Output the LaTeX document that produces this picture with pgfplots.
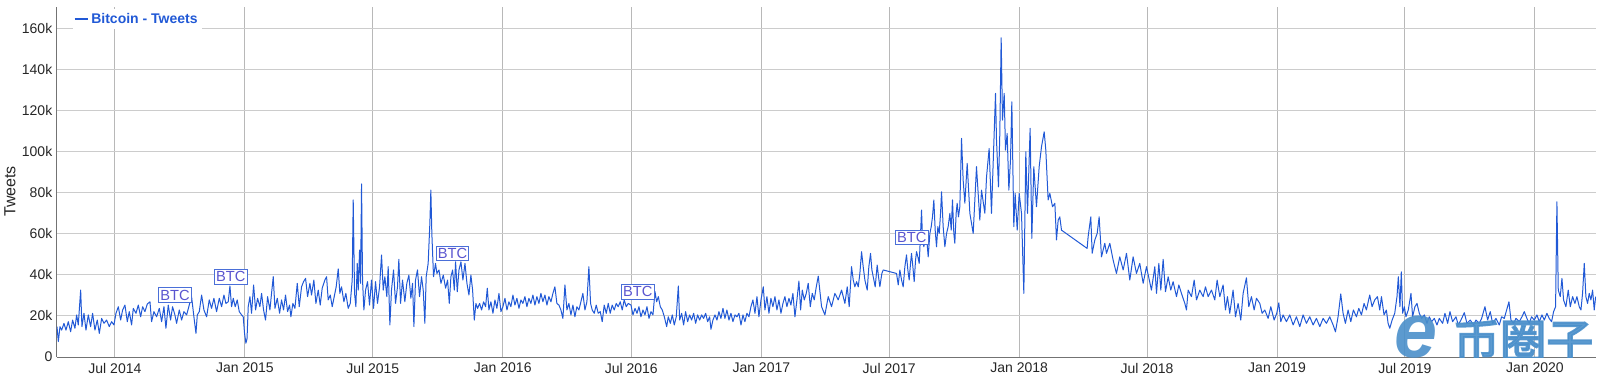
\documentclass[border=0pt]{standalone}
\usepackage{fontspec}
\setmainfont{Liberation Sans}
\newfontfamily\cjk{Noto Sans CJK SC}[FakeBold=4]
\usepackage{pgfplots}
\pgfplotsset{compat=1.18}
\definecolor{btc}{HTML}{2159D6}
\definecolor{btcbox}{HTML}{4A6FD8}
\definecolor{btctext}{HTML}{5A55D0}
\definecolor{wm}{HTML}{4A8FCA}
\begin{document}
\begin{tikzpicture}
\useasboundingbox (-42.75pt,-14.25pt) rectangle (1157.25pt,267.75pt);
\begin{axis}[
  at={(0,0)}, anchor=south west,
  width=1154.25pt, height=262.5pt, scale only axis,
  xmin=99, xmax=2277.5, ymin=0, ymax=170.5,
  axis x line*=bottom, axis y line*=left,
  axis line style={-, draw=black!55, line width=0.75pt},
  xtick={181,365,546,730,912,1096,1277,1461,1642,1826,2007,2191},
  xticklabels={Jul 2014,Jan 2015,Jul 2015,Jan 2016,Jul 2016,Jan 2017,Jul 2017,Jan 2018,Jul 2018,Jan 2019,Jul 2019,Jan 2020},
  ytick={0,20,40,60,80,100,120,140,160},
  yticklabels={0,20k,40k,60k,80k,100k,120k,140k,160k},
  /pgf/number format/assume math mode=true,
  xmajorgrids, ymajorgrids,
  x grid style={draw=black!28, line width=0.75pt},
  y grid style={draw=black!20, line width=0.75pt},
  major tick length=0pt,
  tick style={draw=none},
  tick label style={font=\fontsize{10.5}{12}\selectfont, text=black!85},
  xticklabel style={yshift=-1pt},
  ylabel={Tweets},
  every axis y label/.style={at={(axis description cs:0,0.473)}, xshift=-35.25pt, anchor=center, rotate=90, font=\fontsize{12}{14}\selectfont, text=black!85},
  legend style={at={(axis description cs:0.0100,0.995)}, anchor=north west, draw=none, fill=white, inner sep=1pt, font=\fontsize{10.5}{12}\selectfont\bfseries, text=btc},
  legend cell align=left,
  legend image code/.code={\draw[btc, line width=1pt] (0pt,0pt) -- (10pt,0pt);},
]
\addplot[btc, line width=0.75pt, line join=round] coordinates {
(99,14.8)(100.9,7.5)(103.2,14.8)(105.6,13.1)(108.9,16.4)(111.7,13.1)(115,17.2)(118.3,12.3)(121.1,18)(124.4,14)(126.8,20.5)(129.1,15.6)(132.5,32.6)(134.3,14.8)(137.2,21.3)(140,13.1)(143.3,20.5)(146.6,14.8)(149.4,21.3)(152.7,13.1)(156,18)(158.9,11.5)(162.2,18.8)(165.5,16.4)(169.2,18)(173,14.8)(176.3,17.2)(179.6,15.6)(182.5,21.3)(185.8,24.5)(189.1,18)(191.9,22.9)(195.2,25.3)(198.5,17.2)(201.3,22.1)(204.6,15.6)(207,23.7)(210.8,21.3)(214.1,25.3)(217.4,19.6)(220.2,24.5)(223.5,22.1)(226.8,25.8)(230.6,26.9)(232.9,17.2)(236.2,22.1)(240,19.6)(243.8,23.7)(247.1,17.2)(250.4,24.5)(253.2,14)(256.5,25.3)(259.8,18)(262.6,24.5)(265.9,20.5)(268.3,16.4)(272.1,22.9)(275.4,18)(278.7,22.1)(282.5,20.5)(286.2,25.3)(289.5,29.4)(292.8,19.6)(295.7,11.5)(297.6,20.5)(300.4,22.1)(303.7,30.2)(307,22.9)(310.8,19.6)(314.5,27.8)(317.8,23.7)(321.1,28.6)(324.9,22.1)(328.7,28.6)(332,24.5)(335.3,30.2)(338.1,26.1)(341.4,26.9)(343.8,34.6)(346.1,24.5)(348.5,28.6)(351.3,24.5)(354.1,27.8)(357,22.1)(360.3,20.5)(362.6,19.6)(364.5,11.5)(366.4,6.7)(368,9)
(369.7,24.5)(372.1,29.4)(374.4,21.3)(377.3,35.1)(380.1,22.9)(382.9,28.6)(386.2,24.5)(388.6,31)(391.4,22.9)(394.2,18)(397.1,29.4)(400.4,22.9)(402.7,31)(405.1,39.1)(407.5,23.7)(410.8,28.6)(414.1,21.3)(416.9,27.8)(419.7,22.9)(422.5,30.2)(425.4,22.1)(428.2,25.3)(430.1,19.6)(432.9,26.1)(435.8,23.7)(439.1,35.9)(441.9,24.5)(445.2,34.2)(448,36.7)(450.9,38.3)(453.7,29.4)(457,35.9)(459.3,30.2)(462.6,37.5)(465.5,26.1)(468.8,32.6)(471.6,25.3)(474.4,33.5)(478.2,37.5)(480.6,39.1)(482.9,27.8)(485.8,30.2)(488.6,24.5)(491.4,29.4)(494.2,34.2)(497.1,42.9)(499.4,31)(501.8,34.2)(505.1,26.9)(507.9,31)(511.2,23.7)(514.1,26.1)(516.9,37.5)(518.3,76.5)(520.2,31)(522.1,24.5)(524,45.6)(525.4,32.6)(527.3,52.1)(528.7,35.9)(530.1,84.3)(531.5,37.5)(533.4,22.9)(535.8,32.6)(538.6,36.7)(541.4,25.3)(544.2,37.5)(547.1,23.7)(549.9,36.7)(552.7,26.1)(555.6,34.2)(558.4,49.7)(560.8,32.6)(563.1,39.1)(565.9,29.4)(567.8,44)(570.2,15.6)(572.5,32.6)(575.4,42.4)(578.2,26.1)(581,34.2)(582.9,47.6)(585.3,26.1)(588.1,37.5)(591.4,26.9)(594.2,35.9)(597.1,39.9)(599.9,28.6)(602.3,35.9)(604.2,14.8)(606.5,37.5)(609.3,42.4)(612.2,29.4)(615,39.1)(617.4,32.6)(619.7,16.4)(621.6,39.1)(624.4,45.6)(626.8,65.1)(628.2,81.3)(629.6,60.2)(632,39.1)(634.8,45.6)
(636.8,40.7)(639.7,42.4)(642.5,35.9)(645.8,39.9)(649.1,33.5)(651.9,37.5)(654.3,26.1)(656.6,39.1)(659,42.4)(661.4,32.6)(663.2,46.4)(665.6,31.8)(668,42.4)(670.8,46.4)(673.6,37.5)(676.5,45.6)(679.3,35.9)(682.1,30.2)(684.9,39.9)(687.3,32.6)(689.7,18)(692,26.1)(694.4,23.7)(697.2,26.1)(700,22.9)(702.9,26.9)(705.7,24.5)(708.1,33.5)(710.4,22.9)(713.2,26.9)(716.1,21.3)(718.9,27.8)(721.7,23.7)(724.6,31)(727.4,22.1)(730.2,24.5)(733.1,28.6)(735.9,22.9)(738.7,26.9)(741.5,24.5)(744.4,30.2)(747.2,25.3)(750,28.6)(752.9,23.7)(755.7,27.8)(758.5,26.1)(761.4,29.4)(764.2,24.5)(767,28.6)(769.8,26.1)(772.7,30.2)(775.5,25.3)(778.3,29.4)(781.2,26.1)(784,31)(786.8,26.9)(789.7,30.2)(792.5,25.3)(795.3,29.4)(798.2,26.9)(801,31)(803.8,34.2)(806.6,26.1)(809.5,25.3)(812.3,22.9)(815.1,18.8)(818,35.1)(820.8,22.9)(823.6,26.1)(826.5,20.5)(829.3,25.3)(832.1,19.6)(834.9,24.5)(837.8,22.9)(840.6,26.9)(843.4,31)(846.3,22.9)(849.1,26.9)(851.9,44)(854.3,26.1)(856.6,22.9)(859.5,21.3)(862.3,25.3)(865.1,21.3)(868,22.1)(870.8,17.2)(873.6,25.3)(876.5,21.3)(879.3,26.1)(882.1,21.3)(884.9,25.3)(887.8,22.9)(890.6,26.1)(893.4,24.5)(896.3,26.9)(899.1,22.9)(901.9,27.8)(904.8,24.5)(907.6,26.1)
(911.5,25.3)(914.3,20.5)(917.2,23.7)(920,21.3)(922.8,24.5)(925.6,19.6)(928.5,22.9)(931.3,20.5)(934.1,24.5)(937,18.8)(939.8,22.1)(942.6,20.5)(945.5,31.8)(947.8,26.9)(950.2,29.4)(953,24.5)(955.8,22.9)(958.7,19.6)(962,14.8)(964.3,19.6)(967.2,16.4)(970,20.5)(972.8,15.6)(975.6,19.6)(978.5,34.6)(980.4,18)(983.2,21.3)(986,15.6)(988.8,22.1)(991.7,17.2)(994.5,20.5)(997.3,18)(1000.2,21.3)(1003,16.4)(1005.8,20.5)(1008.7,18)(1011.5,20.5)(1014.3,18.8)(1017.2,21.3)(1020,17.2)(1022.8,19.6)(1024.7,13.5)(1027.5,18)(1030.4,20.5)(1033.2,18)(1036,22.1)(1038.8,18.8)(1041.7,23.7)(1044.5,18.8)(1047.3,22.9)(1050.2,18)(1053,21.3)(1055.8,17.2)(1058.7,20.5)(1061.5,19.6)(1064.3,21.3)(1067.2,15.6)(1070,20.5)(1072.8,17.2)(1075.6,21.3)(1078.5,19.6)(1081.3,24.5)(1084.1,27.8)(1087,21.3)(1089.8,29.4)(1092.6,19.6)(1095.5,27.8)(1098.8,34.2)(1101.1,22.9)(1103.9,29.4)(1106.8,21.3)(1109.6,28.6)(1112.4,24.5)(1115.3,29.4)(1118.1,22.9)(1120.9,27.8)(1123.8,21.3)(1126.6,26.1)(1129.4,29.4)(1132.2,24.5)(1135.1,28.6)(1137.9,25.3)(1140.7,31)(1143.6,19.6)(1146.4,27.8)(1149.2,37)(1151.6,22.9)(1154,32.6)(1156.8,27.8)(1159.6,31)(1162.4,35.9)(1165.3,24.5)(1168.1,31)(1170.9,27.8)(1173.8,34.2)(1176.6,39.4)
(1181.3,24.5)(1186,20.5)(1190.7,29.4)(1195.4,24.5)(1200.1,31)(1204.8,27.8)(1209.6,32.6)(1214.3,26.1)(1217.6,34.2)(1220.4,24.5)(1223.7,44)(1226.1,37.5)(1228.4,34.2)(1230.8,36.7)(1233.2,34.2)(1235.5,40.7)(1237.9,51.3)(1240.2,44)(1242.6,37.5)(1245.9,32.6)(1248.2,44)(1250.6,50.5)(1252.5,42.4)(1254.4,39.1)(1257.2,34.2)(1260,44.8)(1261.9,39.1)(1263.8,34.2)(1266.6,40.7)(1268.5,42.4)(1287.4,40.7)(1289.8,35.1)(1292.1,42.4)(1294.5,37.5)(1296.8,34.2)(1299.2,44)(1301.5,49.7)(1303.4,42.4)(1305.3,37.5)(1307.2,45.6)(1308.6,50.5)(1310.5,44)(1312.4,36.7)(1314.3,47.2)(1315.7,51.3)(1317.6,48.8)(1319.5,45.6)(1321.4,60.2)(1322.8,71.6)(1324.2,57)(1326.1,53.7)(1328.4,60.2)(1330.3,57)(1332.2,48.8)(1334.6,60.2)(1336.5,63.5)(1338.3,68.3)(1340.2,76.5)(1342.1,61.8)(1344,53.7)(1345.9,63.5)(1347.8,60.2)(1349.7,70)(1351.1,80.5)(1353.4,63.5)(1355.8,53.7)(1358.2,60.2)(1360.5,63.5)(1362.9,70)(1364.8,61.8)(1366.6,76.5)(1368.5,60.2)(1369.9,55.4)(1371.8,70)(1373.2,74.9)(1375.1,68.3)(1377,73.2)(1379.4,106.5)(1381.7,86.2)(1384.1,74.9)(1387.4,94.3)(1391.2,70)(1395.9,60.2)(1400.6,92.7)(1405.3,66.7)(1407.7,81.3)(1412.4,70)(1414.8,87.8)(1418.5,101.6)(1421.8,70)(1427.5,128.4)(1428.9,105.7)(1431.7,82.9)(1433.6,108.9)(1435.5,155.5)(1437.4,115.4)(1439.8,128.4)(1441.6,100.8)(1444,108.9)(1446.4,81.3)(1448.7,95.9)(1450.6,124.3)(1453.4,63.5)(1455.3,79.7)(1458.2,61.8)(1461,79.7)(1464.3,70)(1467.6,31)(1470.4,100)(1472.8,70)(1476.5,111.4)(1478.9,57.8)(1481.7,92.7)(1485.5,73.2)(1489.3,92.7)(1492.6,102.4)(1496.4,109.7)(1498.7,100.8)(1502,76.5)(1504.4,79.7)(1508.2,73.2)(1511.5,74.9)(1513.8,57)(1516.2,66.7)(1518.5,68.3)(1520.9,61.8)(1557.2,52.9)(1558.6,58.6)(1562.4,68.3)(1564.3,50.5)(1568.1,57)(1571.4,60.2)(1574.2,68.3)(1577.5,48.8)(1582.2,55.4)(1584.6,50.5)(1589.3,55.4)(1594,47.2)(1598.7,40.7)(1603.4,48.8)(1608.2,42.4)(1612.9,50.5)(1617.6,37.5)(1622.3,48.8)(1627,40.7)(1631.7,45.6)(1636.5,35.9)(1641.2,44)(1648.2,32.6)
(1653,44)(1655.4,31)(1658.7,45.6)(1661.5,32.6)(1664.8,47.6)(1668.1,31.8)(1671.9,39.1)(1675.6,32.6)(1678.9,36.7)(1683.7,29.4)(1687,35.1)(1690.7,31)(1695.5,26.1)(1697.8,22.9)(1700.2,32.6)(1704.9,29.4)(1708.7,37.5)(1712,27.8)(1716.7,32.6)(1721.4,29.4)(1724.7,34.2)(1728.5,29.4)(1733.2,32.6)(1737.9,27.8)(1741.2,37.5)(1745,29.4)(1749.7,35.1)(1753,22.9)(1755.8,29.4)(1759.1,21.3)(1763.8,32.6)(1767.2,19.6)(1770.9,26.1)(1774.7,18)(1778,31)(1782.7,38.6)(1786,24.5)(1789.8,29.4)(1793.6,22.9)(1796.9,28.6)(1801.6,26.1)(1804.9,21.3)(1808.7,22.9)(1813.4,18.8)(1817.2,24.5)(1821.9,18)(1825.6,21.3)(1828.5,26.4)(1831.3,17.2)(1834.6,20.5)(1839.3,17.2)(1844,20.5)(1848.8,15.6)(1853.5,19.6)(1858.2,14.8)(1862.9,20.5)(1867.6,16.4)(1872.3,19.6)(1877.1,15.6)(1881.8,18.8)(1886.5,14.8)(1891.2,18.8)(1895.9,16.4)(1900.6,19.6)(1905.4,15.6)(1908.7,12.3)(1912.4,19.6)(1916.2,30.7)(1919.5,21.3)(1922.8,16.4)(1926.6,22.9)(1930.4,17.2)(1934.1,22.9)(1938.4,19.6)(1941.7,23.7)(1945.5,20.5)(1949.2,26.1)(1952.5,22.9)(1957.2,30.2)(1960.5,24.5)(1964.3,27.8)(1968.1,29.4)(1971.4,22.9)(1973.8,29.4)(1977.5,20.5)(1980.8,22.9)(1983.2,16.4)(1985.6,14)(1988.9,18)(1992.6,21.3)
(1995.8,29.4)(1997.7,39.1)(2000,24.5)(2001.9,41.5)(2003.8,21.3)(2006.2,24.5)(2008.5,19.6)(2011.8,22.9)(2015.6,31)(2017.9,19.6)(2021.2,24.5)(2024.1,26.1)(2027.4,21.3)(2030.7,18.8)(2034.5,20.5)(2038.2,16.4)(2041.5,19.6)(2044.8,17.2)(2048.6,18.8)(2052.4,15.6)(2055.7,18.8)(2060.4,16.4)(2063.7,21.3)(2067.5,16.4)(2070.8,22.1)(2074.5,17.2)(2079.3,19.6)(2082.6,15.6)(2086.3,18)(2091.1,21.6)(2094.8,16.4)(2099.5,18)(2104.3,15.6)(2107.6,18)(2112.3,16.4)(2115.6,18.8)(2120.3,24.5)(2124.1,18)(2127.8,22.1)(2131.2,16.4)(2135.9,18.8)(2140.6,15.6)(2143.9,19.6)(2147.7,18.8)(2151,22.9)(2154.3,26.9)(2157.1,18)(2160.9,16.4)(2164.2,18.8)(2168.9,17.2)(2172.7,19.6)(2176,22.1)(2179.7,18.8)(2183,16.4)(2186.3,19.6)(2190.1,18)(2193.9,20.5)(2197.2,17.2)(2201,20.5)(2204.3,18)(2208,21.3)(2211.3,18.8)(2214.6,17.2)(2217.5,22.1)(2220.3,24.5)(2222.2,75.6)(2224.1,32.6)(2226.9,29.4)(2229.3,38.3)(2231.6,27.8)(2234.9,24.5)(2238.2,32.6)(2241.1,24.5)(2244.4,29.4)(2247.7,26.1)(2250.5,29.4)(2253.8,24.5)(2256.2,22.9)(2258.5,31)(2260.9,45.6)(2263.2,29.4)(2265.6,26.1)(2267.9,31)(2270.3,27.8)(2272.7,32.6)(2275,22.9)(2277,29.4)
};
\addlegendentry{Bitcoin - Tweets}
\tikzset{btcnote/.style={draw=btcbox, fill=white, text=btctext, font=\fontsize{11}{12}\selectfont, inner xsep=1.2pt, inner ysep=1.5pt, line width=0.6pt}}
\node[btcnote] at (axis cs:266,30.2) {BTC};
\node[btcnote] at (axis cs:345,39.0) {BTC};
\node[btcnote] at (axis cs:659,50.6) {BTC};
\node[btcnote] at (axis cs:921,31.7) {BTC};
\node[btcnote] at (axis cs:1309,58.4) {BTC};
\node[text=wm, opacity=0.9, font=\fontsize{58}{58}\selectfont\bfseries\itshape, inner sep=0pt] at (axis cs:2023,9.5) {e};
\node[text=wm, opacity=0.9, font=\fontsize{35}{35}\selectfont\cjk, inner sep=0pt, anchor=west] at (axis cs:2075,7.5) {币圈子};
\end{axis}
\end{tikzpicture}
\end{document}
